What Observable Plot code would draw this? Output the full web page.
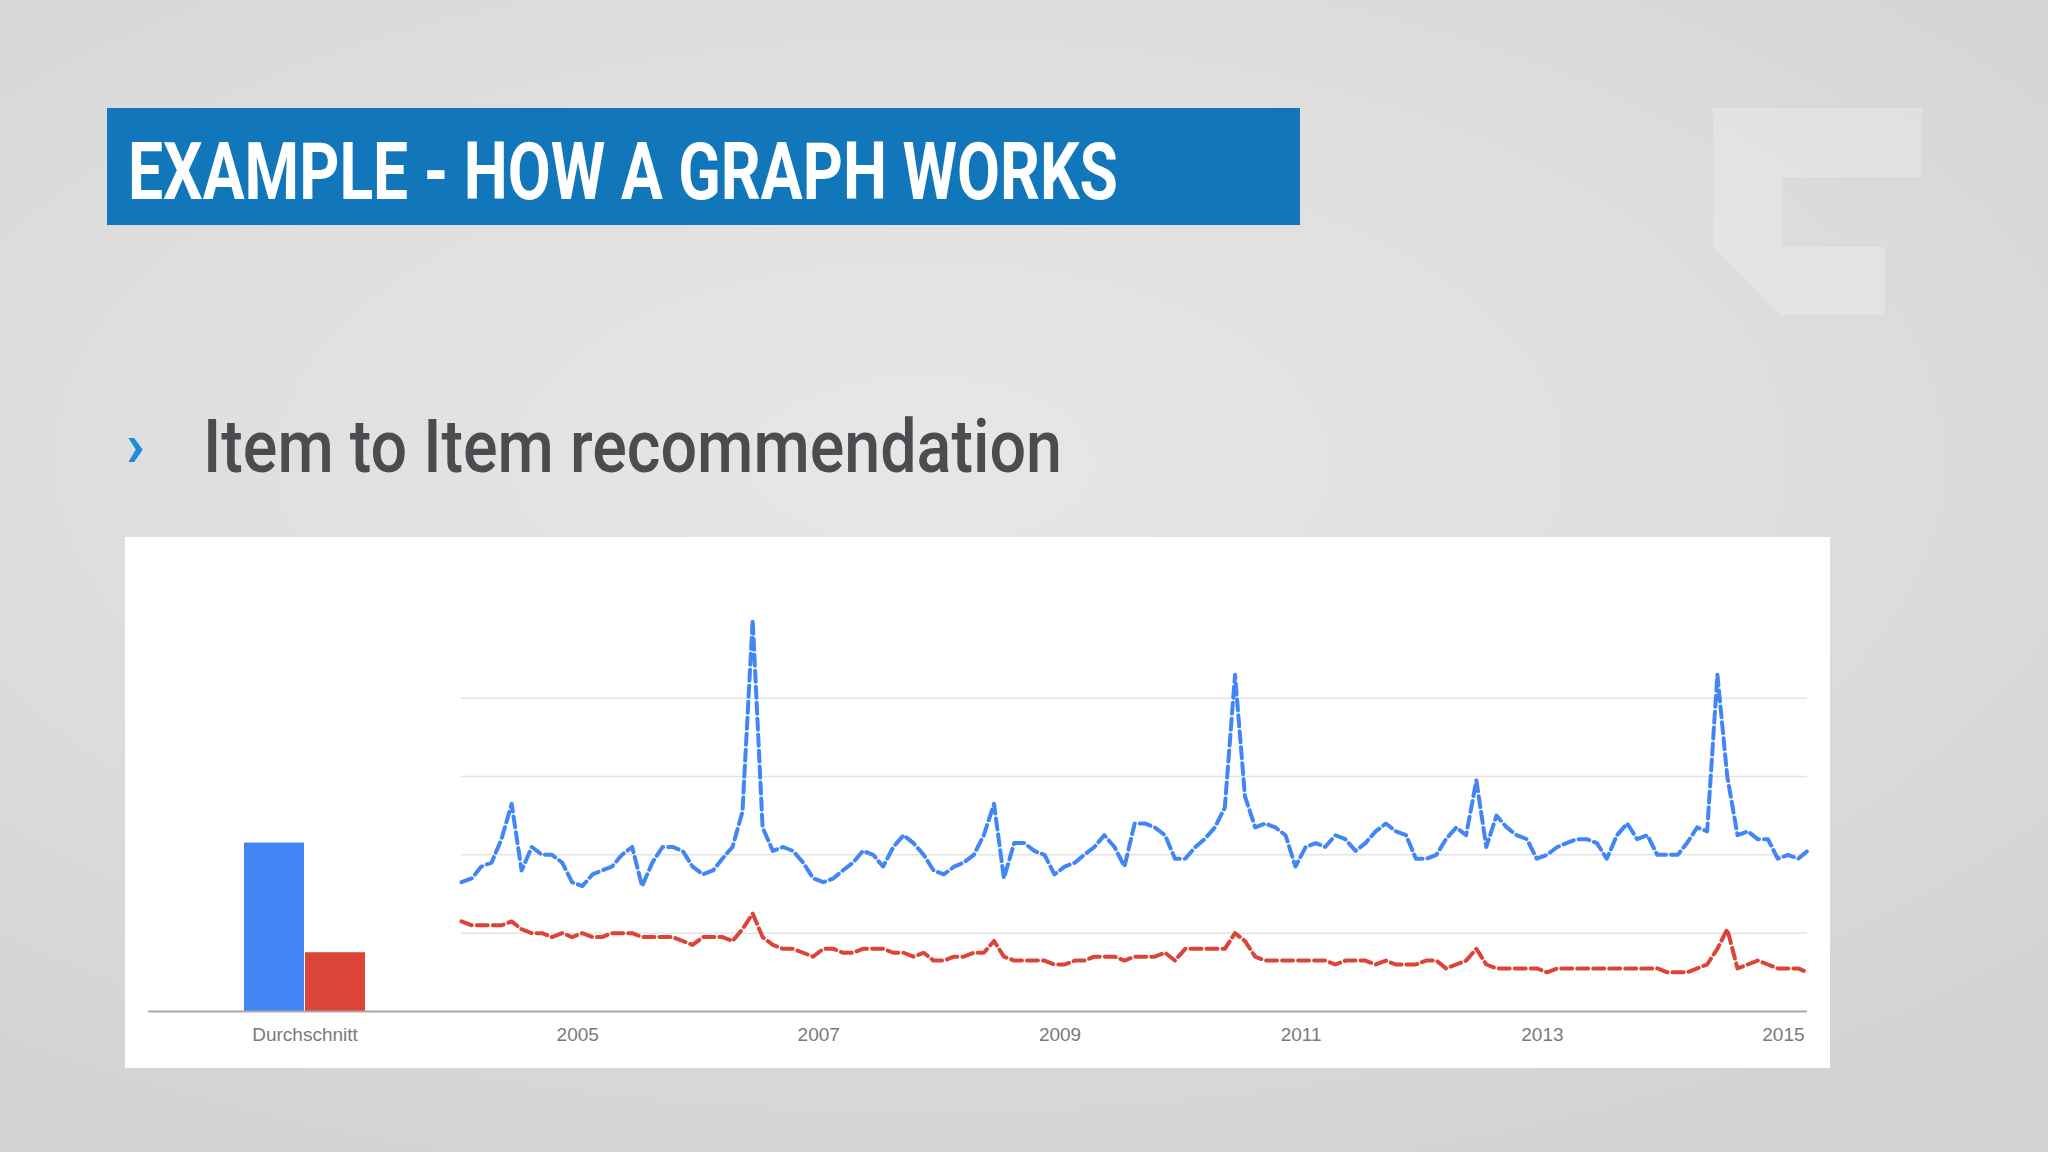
<!DOCTYPE html>
<html><head><meta charset="utf-8">
<script src="https://cdn.jsdelivr.net/npm/d3@7"></script>
<script src="https://cdn.jsdelivr.net/npm/@observablehq/plot@0.6"></script>
<style>
html,body{margin:0;padding:0;width:2048px;height:1152px;overflow:hidden;}
body{position:relative;background:radial-gradient(ellipse 75% 65% at 45% 40%, #e7e7e7 0%, #dedede 55%, #d3d3d3 100%);font-family:Roboto,"Liberation Sans",sans-serif;}
#deco{position:absolute;left:0;top:0;}
#panel{position:absolute;left:125px;top:537px;width:1705px;height:531px;background:#fff;}
#bars{position:absolute;left:138px;top:560px;}
#lines{position:absolute;left:451px;top:560px;}
</style></head>
<body>
<svg id="deco" width="2048" height="1152">
  <polygon points="1713,108 1922,108 1922,177 1783,177 1783,247 1885,247 1885,315 1780,315 1713,247" fill="#ffffff" fill-opacity="0.22"/>
  <rect x="107" y="108" width="1193" height="117" fill="#1277ba"/>
  <text x="128" y="199" font-family="Roboto" font-weight="700" font-size="80" fill="#ffffff" textLength="990" lengthAdjust="spacingAndGlyphs">EXAMPLE - HOW A GRAPH WORKS</text>
  <text x="126" y="466" font-family="Roboto" font-weight="700" font-size="62" fill="#1a8cd8">›</text>
  <text x="203" y="472" font-family="Roboto" font-weight="500" font-size="74" fill="#4b4b50" textLength="859" lengthAdjust="spacingAndGlyphs">Item to Item recommendation</text>
</svg>
<div id="panel"></div>
<div id="bars"></div>
<div id="lines"></div>
<script>
// ---- data ----
const seriesNames = ["Suchbegriff A", "Suchbegriff B"];
const seriesColors = ["#4285f4", "#db4437"];
const averageLabel = "Durchschnitt";
const averages = [43, 15];
const startYear = 2004;          // first month: Jan 2004 (monthly data to Mar 2015)
const tickYears = [2005, 2007, 2009, 2011, 2013, 2015];
const gridValues = [20, 40, 60, 80];
const blue = [33,34,37,38,44,53,36,42,40,40,38,33,32,35,36,37,40,42,32,38,42,42,41,
  37,35,36,39,42,51,100,47,41,42,41,38,34,33,34,36,38,41,40,37,42,45,
  43,40,36,35,37,38,40,45,53,34,43,43,41,40,35,37,38,40,42,45,42,37,48,
  48,47,45,39,39,42,44,47,52,86,55,47,48,47,45,37,42,43,42,45,44,41,
  43,46,48,46,45,39,39,40,44,47,45,59,42,50,47,45,44,39,40,42,43,44,44,
  43,39,45,48,44,45,40,40,40,43,47,46,86,60,45,46,44,44,39,40,39,41];
const red = [23,22,22,22,22,23,21,20,20,19,20,19,20,19,19,20,20,20,19,19,19,19,18,
  17,19,19,19,18,21,25,19,17,16,16,15,14,16,16,15,15,16,16,16,15,15,
  14,15,13,13,14,14,15,15,18,14,13,13,13,13,12,12,13,13,14,14,14,13,14,
  14,14,15,13,16,16,16,16,16,20,18,14,13,13,13,13,13,13,13,12,13,13,
  13,12,13,12,12,12,13,13,11,12,13,16,12,11,11,11,11,11,10,11,11,11,11,
  11,11,11,11,11,11,11,10,10,10,11,12,16,21,11,12,13,12,11,11,11,10];

// ---- tables ----
const dates = blue.map((_, i) => new Date(Date.UTC(startYear, i, 15)));
const rows = [
  ...blue.map((v, i) => ({date: dates[i], value: v, series: seriesNames[0]})),
  ...red.map((v, i) => ({date: dates[i], value: v, series: seriesNames[1]}))
];
const avgData = averages.map((v, i) => ({label: averageLabel, series: seriesNames[i], value: v}));
const tickDates = tickYears.map(y => new Date(Date.UTC(y, 0, 1)));

const axisStyle = {background: "transparent", fontFamily: "'Liberation Sans', Arial, sans-serif", fontSize: "19px", color: "#7a7a7a", overflow: "visible"};
const colorScale = {domain: seriesNames, range: seriesColors};

const bars = Plot.plot({
  width: 333, height: 500,
  marginLeft: 10, marginRight: 10, marginTop: 59.3, marginBottom: 49,
  style: axisStyle,
  facet: {data: avgData, x: "label"},
  fx: {axis: "bottom", label: null, padding: 0, tickSize: 0, tickPadding: 16},
  x: {axis: null, domain: seriesNames, paddingInner: 0.024, paddingOuter: 1.557},
  y: {axis: null, domain: [0, 100]},
  color: colorScale,
  marks: [
    Plot.barY(avgData, {x: "series", y: "value", fill: "series"}),
    Plot.ruleY([0], {stroke: "#a9a9a9", strokeWidth: 2})
  ]
});
document.getElementById("bars").appendChild(bars);

const lines = Plot.plot({
  width: 1396, height: 500,
  marginLeft: 10, marginRight: 40, marginTop: 59.3, marginBottom: 49,
  style: axisStyle,
  x: {type: "utc", domain: [dates[0], dates[dates.length - 1]], ticks: tickDates, tickFormat: d3.utcFormat("%Y"), tickSize: 0, tickPadding: 16, label: null},
  y: {axis: null, domain: [0, 100]},
  color: colorScale,
  marks: [
    Plot.ruleY(gridValues, {stroke: "#e4e4e4", strokeWidth: 1.5}),
    Plot.ruleY([0], {stroke: "#a9a9a9", strokeWidth: 2}),
    Plot.lineY(rows, {x: "date", y: "value", z: "series", stroke: "series", strokeWidth: 4, strokeDasharray: "11,5"})
  ]
});
document.getElementById("lines").appendChild(lines);
</script>
</body></html>
